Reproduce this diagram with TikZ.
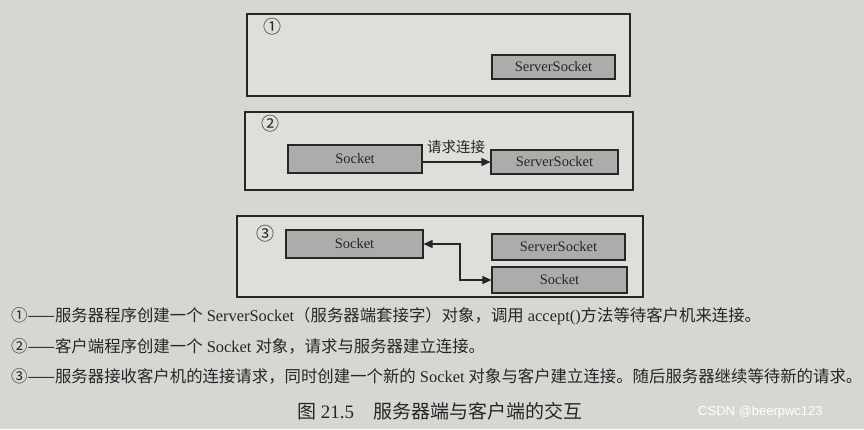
\documentclass[tikz,border=0pt]{standalone}
\usepackage{fontspec}
\setmainfont{Liberation Serif}
\newfontfamily\cjk{Noto Sans CJK SC}
\newfontfamily\wmfont{Liberation Sans}
\usetikzlibrary{arrows.meta}
\definecolor{paper}{RGB}{214,214,211}
\definecolor{panelfill}{RGB}{222,222,219}
\definecolor{boxgray}{RGB}{172,172,170}
\definecolor{ink}{RGB}{38,38,38}
\newcommand\zh[1]{{\cjk #1}}
\tikzset{
  panel/.style={draw=ink, line width=1.4pt, fill=panelfill},
  sbox/.style={draw=ink, fill=boxgray, line width=1.1pt, inner sep=0pt,
    text=ink, font=\fontsize{14.5}{14.5}\selectfont},
  conn/.style={draw=ink, line width=1.2pt},
  tip/.style={-{Triangle[length=9pt,width=8pt]}},
  circnum/.style={inner sep=0pt, text=ink, font=\cjk\fontsize{18}{18}\selectfont},
  desc/.style={anchor=west, inner sep=0pt, text=ink, font=\fontsize{16.4}{16.4}\selectfont},
}
\begin{document}
\begin{tikzpicture}[x=1pt,y=-1pt]
\useasboundingbox[fill=paper] (0,0) rectangle (864,429);

% panel 1
\draw[panel] (247,14) rectangle (630,96);
\node[circnum] (n1) at (272,27) {①};
\node[sbox, minimum width=123pt, minimum height=24pt] (ss1) at (553.5,67) {ServerSocket};

% panel 2
\draw[panel] (245,112) rectangle (633,190);
\node[circnum] (n2) at (270,124) {②};
\node[sbox, minimum width=134pt, minimum height=28pt] (sk2) at (355,159) {Socket};
\node[sbox, minimum width=127pt, minimum height=24pt] (ss2) at (554.5,162) {ServerSocket};
\draw[conn, tip] (sk2.east |- ss2.west) -- (ss2.west);
\node[inner sep=0pt, text=ink, font=\cjk\fontsize{14.5}{14.5}\selectfont] (req) at (456,147) {请求连接};

% panel 3
\draw[panel] (237,216) rectangle (643,297);
\node[circnum] (n3) at (265,234) {③};
\node[sbox, minimum width=137pt, minimum height=28pt] (sk3a) at (354.5,244) {Socket};
\node[sbox, minimum width=133pt, minimum height=26pt] (ss3) at (558.5,247) {ServerSocket};
\node[sbox, minimum width=135pt, minimum height=26pt] (sk3b) at (559.5,280) {Socket};
\coordinate (bend) at (460,260);
\draw[conn, {Triangle[length=9pt,width=8pt]}-{Triangle[length=9pt,width=8pt]}]
  (sk3a.east) -- (sk3a.east -| bend) -- (sk3b.west -| bend) -- (sk3b.west);

% descriptions
\node[desc] (d1) at (11,316) {\zh{①——服务器程序创建一个} ServerSocket\zh{（服务器端套接字）对象，调用} accept()\zh{方法等待客户机来连接。}};
\node[desc] (d2) at (11,346) {\zh{②——客户端程序创建一个} Socket \zh{对象，请求与服务器建立连接。}};
\node[desc] (d3) at (11,376) {\zh{③——服务器接收客户机的连接请求，同时创建一个新的} Socket \zh{对象与客户建立连接。随后服务器继续等待新的请求。}};

% caption
\node[inner sep=0pt, text=ink, font=\fontsize{19}{19}\selectfont, anchor=west] (cap) at (297,411) {\zh{图} 21.5\hspace{1em}\zh{服务器端与客户端的交互}};

% watermark
\node[inner sep=0pt, text=white, font=\wmfont\fontsize{13}{13}\selectfont, anchor=west] (wm) at (698,412) {CSDN @beerpwc123};
\end{tikzpicture}
\end{document}
